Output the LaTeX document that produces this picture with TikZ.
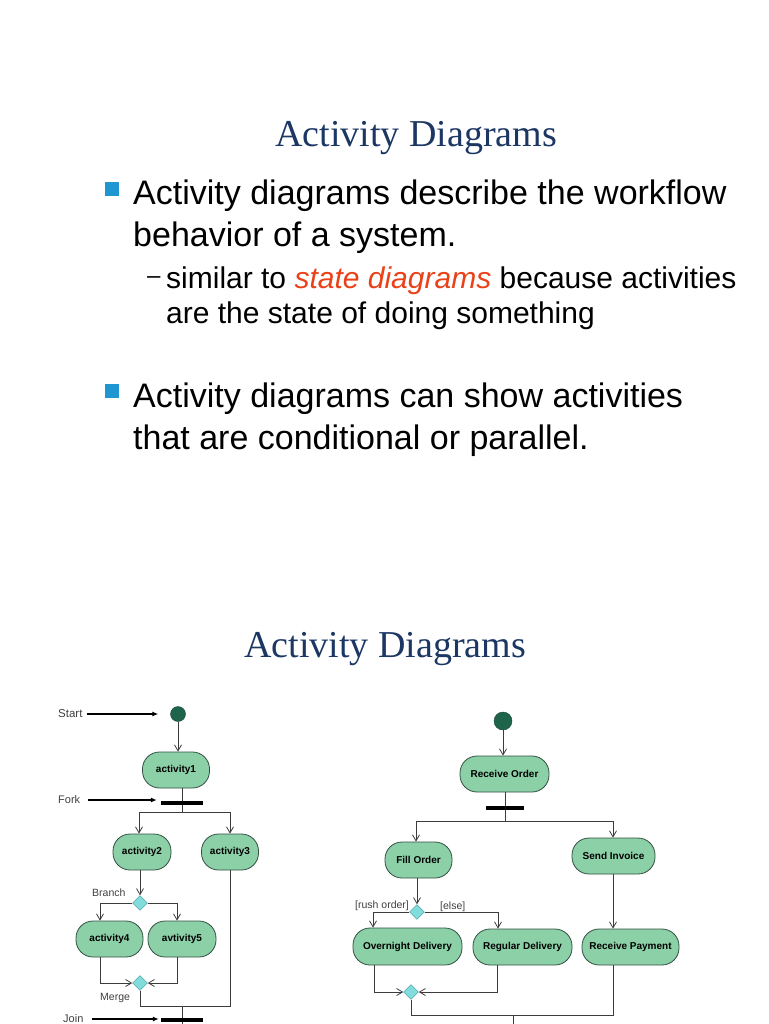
\documentclass[tikz,border=0pt]{standalone}
\usepackage{fontspec}
\setmainfont{Liberation Sans}
\newfontfamily\titlefont{Liberation Serif}
\usetikzlibrary{arrows.meta,shapes.geometric,calc}
\definecolor{titleblue}{RGB}{28,55,100}
\definecolor{bulletblue}{RGB}{30,150,210}
\definecolor{statered}{RGB}{235,65,25}
\definecolor{actfill}{RGB}{140,208,168}
\definecolor{actdraw}{RGB}{50,80,65}
\definecolor{startgreen}{RGB}{30,100,75}
\definecolor{diafill}{RGB}{130,220,220}
\definecolor{diadraw}{RGB}{60,150,150}
\definecolor{flowgray}{RGB}{60,60,60}
\tikzset{
  titletext/.style={font=\titlefont\fontsize{38}{44}\selectfont, text=titleblue, anchor=base west, inner sep=0},
  maintext/.style={font=\fontsize{34}{40}\selectfont, anchor=base west, inner sep=0},
  subtext/.style={font=\fontsize{30}{35}\selectfont, anchor=base west, inner sep=0},
  bulletsq/.style={fill=bulletblue, minimum size=14pt, inner sep=0, anchor=north west},
  act/.style={draw=actdraw, fill=actfill, line width=0.8pt, rounded corners=17pt, minimum height=36pt, inner sep=0, font=\bfseries\fontsize{10}{12}\selectfont},
  startdot/.style={circle, fill=startgreen, draw=startgreen!70!black, inner sep=0},
  bar/.style={fill=black, inner sep=0, minimum width=42pt, minimum height=3.5pt},
  dia/.style={diamond, draw=diadraw, fill=diafill, inner sep=0, minimum width=15pt, minimum height=15pt},
  lbl/.style={font=\fontsize{10.5}{12}\selectfont, text=black!75, inner sep=0},
  flow/.style={draw=flowgray, line width=0.8pt, -{Straight Barb[length=6pt,width=7pt]}},
  plain/.style={draw=flowgray, line width=0.8pt},
  lblarrow/.style={draw=black, line width=1.3pt, -{Latex[length=6pt,width=5pt]}}
}
\begin{document}
\begin{tikzpicture}[x=1pt,y=-1pt]
\useasboundingbox[fill=white] (0,0) rectangle (768,1024);
% ---------- top slide ----------
\node[titletext] (t1) at (275,147) {Activity Diagrams};
\node[bulletsq] (sq1) at (105,182) {};
\node[maintext] (b1a) at (133,205) {Activity diagrams describe the workflow};
\node[maintext] (b1b) at (133,247) {behavior of a system.};
\node[font=\fontsize{24}{28}\selectfont, anchor=base west, inner sep=0] (dash1) at (147,283) {–};
\node[subtext] (s1a) at (166,288) {similar to \textcolor{statered}{\itshape state diagrams} because activities};
\node[subtext] (s1b) at (166,323) {are the state of doing something};
\node[bulletsq] (sq2) at (105,384) {};
\node[maintext] (b2a) at (133,407) {Activity diagrams can show activities};
\node[maintext] (b2b) at (133,449) {that are conditional or parallel.};
% ---------- second slide ----------
\node[titletext] (t2) at (244,657) {Activity Diagrams};

% ---------- left diagram ----------
\node[startdot, minimum size=15pt] (lS) at (178,714) {};
\node[lbl, anchor=west, font=\fontsize{11.5}{13}\selectfont] (lStartLbl) at (58,714) {Start};
\node[act, minimum width=67pt] (a1) at (176,770) {activity1};
\node[bar] (lFork) at (182,803) {};
\node[lbl, anchor=west, font=\fontsize{11}{13}\selectfont] (lForkLbl) at (58,800) {Fork};
\coordinate (lF1) at (182,812);
\node[act, minimum width=58pt] (a2) at (142,852) {activity2};
\node[act, minimum width=57pt] (a3) at (230,852) {activity3};
\node[dia] (lBr) at (140,903) {};
\node[lbl, anchor=west] (lBrLbl) at (92,893) {Branch};
\node[act, minimum width=67pt] (a4) at (109.5,939) {activity4};
\node[act, minimum width=68pt] (a5) at (182,939) {avtivity5};
\node[dia] (lMg) at (140,983) {};
\node[lbl, anchor=west] (lMgLbl) at (100,998) {Merge};
\coordinate (lJ1) at (182,1006);
\node[bar] (lJoin) at (182,1020) {};
\node[lbl, anchor=west, font=\fontsize{11}{13}\selectfont] (lJoinLbl) at (63,1019) {Join};
\coordinate (lJend) at (182,1024);

\draw[lblarrow, shorten >=12pt] ([xshift=4pt]lStartLbl.east) -- (lS.west);
\draw[lblarrow, shorten >=12pt] ([xshift=8pt]lForkLbl.east) -- ([xshift=8pt]lForkLbl.east -| lFork.west);
\draw[lblarrow, shorten >=10pt] ([xshift=8pt]lJoinLbl.east) -- ([xshift=8pt]lJoinLbl.east -| lJoin.west);

\draw[flow] (lS.south) -- (lS.south |- a1.north);
\draw[plain] (a1.south -| lFork) -- (lFork.north);
\draw[plain] (lFork.south) -- (lF1);
\draw[flow] (lF1) -| ([xshift=-3pt]a2.north);
\draw[flow] (lF1) -| (a3.north);
\draw[flow] (a2.south -| lBr) -- (lBr.north);
\draw[flow] (lBr.west) -| ([xshift=-9.5pt]a4.north);
\draw[flow] (lBr.east) -| ([xshift=-5pt]a5.north);
\draw[flow] ([xshift=-9.5pt]a4.south) |- (lMg.west);
\draw[flow] ([xshift=-5pt]a5.south) |- (lMg.east);
\draw[plain] (lMg.south) |- (lJ1) -| (a3.south);
\draw[plain] (lJ1) -- (lJoin.north);
\draw[plain] (lJoin.south) -- (lJend);

% ---------- right diagram ----------
\node[startdot, minimum size=18pt] (rS) at (503,721) {};
\node[act, minimum width=89pt] (ro) at (504.5,774) {Receive Order};
\node[bar, minimum width=38pt, minimum height=4pt] (rFork) at (505,808) {};
\coordinate (rF1) at (505,821);
\node[act, minimum width=67pt] (fo) at (418.5,860) {Fill Order};
\node[act, minimum width=83pt] (si) at (613.5,856) {Send Invoice};
\node[dia] (rBr) at (417,912) {};
\node[lbl, anchor=west] (rushLbl) at (355,906) {[rush order]};
\node[lbl, anchor=west] (elseLbl) at (440,907) {[else]};
\node[act, minimum width=109pt, minimum height=37pt] (od) at (407.5,946.5) {Overnight Delivery};
\node[act, minimum width=99pt] (rd) at (522.5,947) {Regular Delivery};
\node[act, minimum width=97pt] (rp) at (630.5,947) {Receive Payment};
\node[dia] (rMg) at (411,992) {};
\coordinate (rJ1) at (513,1015);
\coordinate (rEnd) at (513,1024);

\draw[flow] (rS.south) -- (rS.south |- ro.north);
\draw[plain] (ro.south -| rFork) -- (rFork.north);
\draw[plain] (rFork.south) -- (rF1);
\draw[flow] (rF1) -| ([xshift=-2.5pt]fo.north);
\draw[flow] (rF1) -| ([xshift=-0.5pt]si.north);
\draw[flow] (fo.south -| rBr) -- (rBr.north);
\draw[flow] (rBr.west) -| ([xshift=-34.5pt]od.north);
\draw[flow] (rBr.east) -| ([xshift=-24.5pt]rd.north);
\draw[flow] ([xshift=-0.5pt]si.south) -- ([xshift=-0.5pt]si.south |- rp.north);
\draw[flow] ([xshift=-33.5pt]od.south) |- (rMg.west);
\draw[flow] ([xshift=-25.5pt]rd.south) |- (rMg.east);
\draw[plain] (rMg.south) |- (rJ1) -| ([xshift=-17.5pt]rp.south);
\draw[plain] (rJ1) -- (rEnd);
\end{tikzpicture}
\end{document}
